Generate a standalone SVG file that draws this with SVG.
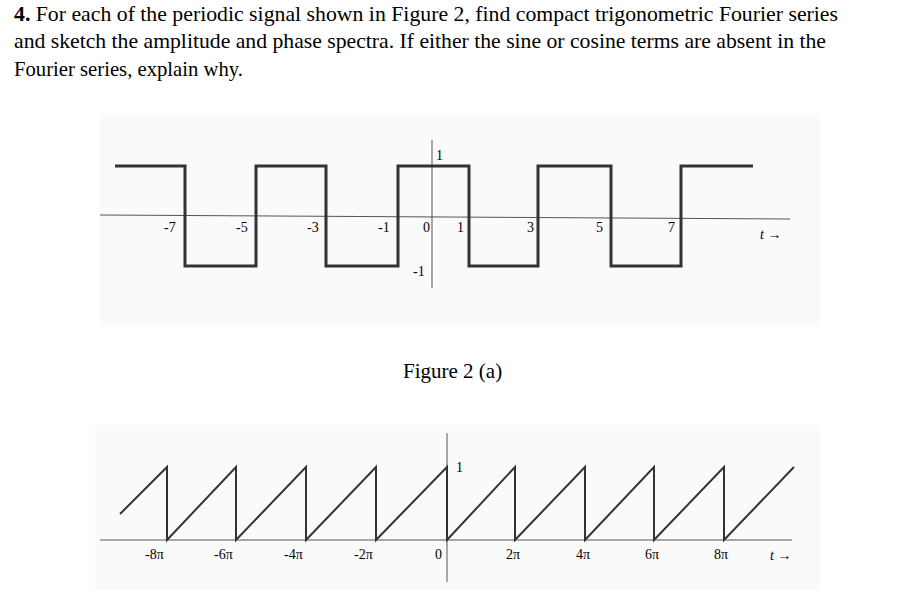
<svg xmlns="http://www.w3.org/2000/svg" width="905" height="595" viewBox="0 0 905 595">
<style>
text{font-family:"Liberation Serif",serif;fill:#000}
.h{font-size:21px}
.l{font-size:14px}
.sig{fill:none;stroke:#333;stroke-width:3}
.saw{fill:none;stroke:#333;stroke-width:2}
.ax{stroke:#555;stroke-width:1;fill:none}
</style>
<rect width="905" height="595" fill="#fff"/>
<g id="question">
<text class="h" x="14" y="21" textLength="824" lengthAdjust="spacingAndGlyphs"><tspan font-weight="bold">4.</tspan> For each of the periodic signal shown in Figure 2, find compact trigonometric Fourier series</text>
<text class="h" x="14" y="48" textLength="812" lengthAdjust="spacingAndGlyphs">and sketch the amplitude and phase spectra. If either the sine or cosine terms are absent in the</text>
<text class="h" x="14" y="76" textLength="229" lengthAdjust="spacingAndGlyphs">Fourier series, explain why.</text>
</g>
<g id="fig-a">
<rect x="100" y="115" width="720" height="210" fill="#fafafa"/>
<g class="ax"><line x1="100" y1="215" x2="790" y2="219"/><line x1="432" y1="140" x2="432" y2="288"/></g>
<path class="sig" d="M115 166H185V266H256V166H326V266H398V166H469V266H538V166H611V266H681V166H753"/>
<g class="l">
<text x="164" y="232">-7</text><text x="236" y="232">-5</text><text x="307" y="232">-3</text><text x="378" y="232">-1</text>
<text x="423" y="232">0</text><text x="457" y="232">1</text><text x="527" y="232">3</text><text x="596" y="232">5</text><text x="668" y="232">7</text>
<text x="436" y="160">1</text><text x="413" y="276">-1</text>
<text x="760" y="239" font-style="italic">t →</text>
</g>
</g>
<text id="caption" class="h" x="403" y="378">Figure 2 (a)</text>
<g id="fig-b">
<rect x="95" y="425" width="725" height="165" fill="#fafafa"/>
<g class="ax"><line x1="100" y1="540" x2="792" y2="540"/><line x1="447" y1="433" x2="447" y2="582"/></g>
<path class="saw" d="M120 514L167 467V540L236 467V540L306 467V540L376 467V540L447 467V540L515 467V540L585 467V540L654 467V540L724 467V540L794 467"/>
<g class="l">
<text x="145" y="559">-8π</text><text x="214" y="559">-6π</text><text x="284" y="559">-4π</text><text x="354" y="559">-2π</text>
<text x="435" y="559">0</text><text x="506" y="559">2π</text><text x="576" y="559">4π</text><text x="645" y="559">6π</text><text x="714" y="559">8π</text>
<text x="456" y="472">1</text>
<text x="770" y="560" font-style="italic">t →</text>
</g>
</g>
</svg>
